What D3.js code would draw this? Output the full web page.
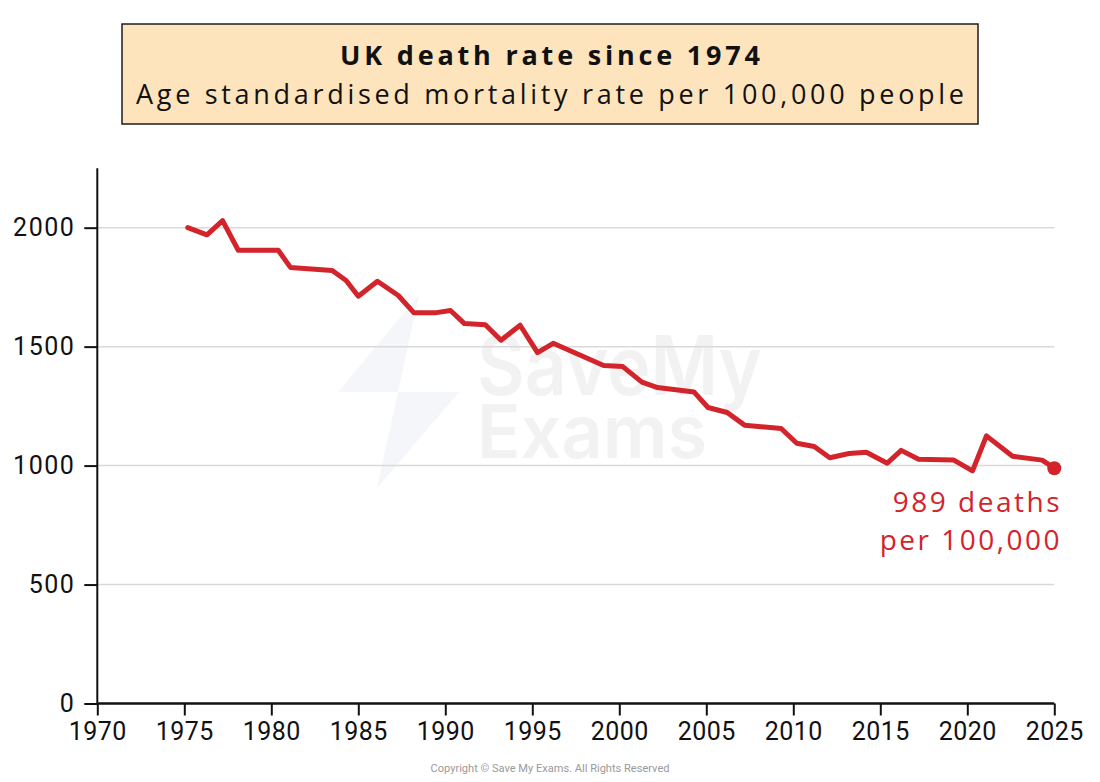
<!DOCTYPE html>
<html>
<head>
<meta charset="utf-8">
<script src="https://cdn.jsdelivr.net/npm/d3@7"></script>
<style>
  html, body { margin: 0; padding: 0; background: #ffffff; }
  svg { display: block; }
</style>
</head>
<body>
<svg id="chart" width="1100" height="782"></svg>
<script>
// ---- data ----
const years = [1975.2, 1976.3, 1977.2, 1978.1, 1980.4, 1981.1, 1983.5, 1984.3, 1985.0, 1986.1,
               1987.3, 1988.2, 1989.4, 1990.3, 1991.1, 1992.3, 1993.2, 1994.3, 1995.3, 1996.2,
               1999.1, 2000.2, 2001.3, 2002.2, 2004.3, 2005.1, 2006.2, 2007.2, 2009.3, 2010.2,
               2011.2, 2012.1, 2013.2, 2014.2, 2015.4, 2016.2, 2017.2, 2019.2, 2020.3, 2021.1,
               2022.6, 2024.3, 2025.0];
const rates = [2000, 1970, 2030, 1905, 1905, 1833, 1820, 1778, 1712, 1775,
               1715, 1642, 1642, 1652, 1597, 1592, 1527, 1590, 1475, 1514,
               1421, 1416, 1351, 1328, 1309, 1244, 1223, 1170, 1156, 1094,
               1080, 1033, 1051, 1056, 1010, 1064, 1027, 1024, 978, 1125,
               1039, 1023, 989];
const xTicks = [1970, 1975, 1980, 1985, 1990, 1995, 2000, 2005, 2010, 2015, 2020, 2025];
const yTicks = [0, 500, 1000, 1500, 2000];
const gridValues = [500, 1000, 1500, 2000];
const titleText = "UK death rate since 1974";
const subtitleText = "Age standardised mortality rate per 100,000 people";
const annotationLines = ["989 deaths", "per 100,000"];
const watermarkLines = ["SaveMy", "Exams"];
const copyrightText = "Copyright \u00A9 Save My Exams. All Rights Reserved";

// ---- layout ----
const svg = d3.select("#chart");
const RED = "#d3242c";
const FONT = "'Open Sans', 'DejaVu Sans', sans-serif";
const TICKFONT = "Roboto, 'Liberation Sans', sans-serif";

const x = d3.scaleLinear().domain([1970, 2025]).range([97.3, 1054.3]);
const y = d3.scaleLinear().domain([0, 2250]).range([703.5, 168.2]);

// watermark (faint logo + one two-line text)
const wmg = svg.append("g");
wmg.append("path")
  .attr("d", "M419,295L338,392L398,392Z M398,392L459,392L377,488Z")
  .attr("fill", "#f5f6fa");
wmg.append("text")
  .attr("font-family", "Inter, " + FONT).attr("font-weight", 600)
  .attr("fill", "#f2f2f3")
  .selectAll("tspan").data(watermarkLines).join("tspan")
  .attr("x", 477).attr("y", (d, i) => 395 + i * 63)
  .attr("font-size", (d, i) => i === 0 ? 82 : 74)
  .attr("textLength", (d, i) => i === 0 ? 285 : 230)
  .attr("lengthAdjust", "spacingAndGlyphs")
  .text(d => d);

// title box
svg.append("rect")
  .attr("x", 122).attr("y", 24).attr("width", 856).attr("height", 100)
  .attr("fill", "#fde4bc").attr("stroke", "#1c1c1c").attr("stroke-width", 1.5);
svg.append("text")
  .attr("x", 550).attr("y", 65).attr("text-anchor", "middle")
  .attr("font-family", FONT).attr("font-size", 27).attr("font-weight", 700).attr("fill", "#111")
  .attr("textLength", 420).attr("lengthAdjust", "spacing")
  .text(titleText);
svg.append("text")
  .attr("x", 550).attr("y", 104).attr("text-anchor", "middle")
  .attr("font-family", FONT).attr("font-size", 27).attr("fill", "#111")
  .attr("textLength", 828).attr("lengthAdjust", "spacing")
  .text(subtitleText);

// gridlines
svg.append("g").selectAll("line").data(gridValues).join("line")
  .attr("x1", x(1970)).attr("x2", x(2025))
  .attr("y1", d => y(d)).attr("y2", d => y(d))
  .attr("stroke", "#d9d9d9").attr("stroke-width", 1.5);

// y axis
const yAxis = svg.append("g")
  .attr("transform", `translate(${x(1970)},0)`)
  .call(d3.axisLeft(y).tickValues(yTicks).tickSize(13).tickPadding(9).tickFormat(d3.format("d")));
yAxis.select(".domain").attr("stroke", "#111").attr("stroke-width", 2)
  .attr("d", `M0,${y(0)}V${y(2250)}`);
yAxis.selectAll(".tick line").attr("stroke", "#111").attr("stroke-width", 2);
yAxis.selectAll(".tick text").attr("font-family", TICKFONT).attr("font-size", 25)
  .attr("fill", "#111").attr("letter-spacing", 1.5);

// x axis
const xAxis = svg.append("g")
  .attr("transform", `translate(0,${y(0)})`)
  .call(d3.axisBottom(x).tickValues(xTicks).tickSize(12).tickPadding(7).tickFormat(d3.format("d")));
xAxis.select(".domain").attr("stroke", "#111").attr("stroke-width", 2.5)
  .attr("d", `M${x(1970)},0H${x(2025)}`);
xAxis.selectAll(".tick line").attr("stroke", "#111").attr("stroke-width", 2);
xAxis.selectAll(".tick text").attr("font-family", TICKFONT).attr("font-size", 25)
  .attr("fill", "#111").attr("letter-spacing", 0.5);

// line
const data = years.map((yr, i) => ({ year: yr, rate: rates[i] }));
svg.append("path")
  .datum(data)
  .attr("fill", "none").attr("stroke", RED).attr("stroke-width", 5)
  .attr("stroke-linejoin", "round").attr("stroke-linecap", "round")
  .attr("d", d3.line().x(d => x(d.year)).y(d => y(d.rate)));

// end dot
const last = data[data.length - 1];
svg.append("circle")
  .attr("cx", x(last.year)).attr("cy", y(last.rate)).attr("r", 7)
  .attr("fill", RED);

// annotation
svg.append("g").selectAll("text").data(annotationLines).join("text")
  .attr("x", 1062).attr("y", (d, i) => 512 + i * 38)
  .attr("text-anchor", "end")
  .attr("font-family", FONT).attr("font-size", 28).attr("fill", RED)
  .attr("letter-spacing", 2.5)
  .text(d => d);

// copyright
svg.append("text")
  .attr("x", 550).attr("y", 772).attr("text-anchor", "middle")
  .attr("font-family", "'Liberation Sans Narrow', 'Roboto', sans-serif").attr("font-size", 11).attr("fill", "#9a9a9a")
  .attr("textLength", 239).attr("lengthAdjust", "spacingAndGlyphs")
  .text(copyrightText);
</script>
</body>
</html>
